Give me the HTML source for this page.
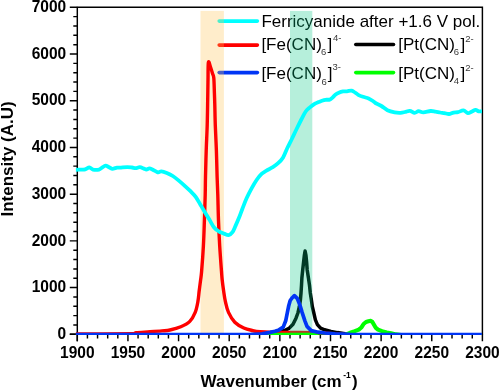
<!DOCTYPE html>
<html><head><meta charset="utf-8"><style>
html,body{margin:0;padding:0;background:#fff;}
svg{display:block;}
text{font-family:"Liberation Sans",Arial,sans-serif;}
</style></head><body>
<svg width="500" height="392" viewBox="0 0 500 392">
<defs><clipPath id="pc"><rect x="75.9" y="7.3" width="406.0" height="327.6"/></clipPath></defs>
<rect width="500" height="392" fill="#fff"/>
<g stroke="#000" stroke-width="1.45" fill="none">
<path d="M77.3 7.3H482.4V334.3"/>
<path d="M69.8 334.30H77.3M73.3 324.96H77.3M73.3 315.61H77.3M73.3 306.27H77.3M73.3 296.93H77.3M69.8 287.59H77.3M73.3 278.24H77.3M73.3 268.90H77.3M73.3 259.56H77.3M73.3 250.21H77.3M69.8 240.87H77.3M73.3 231.53H77.3M73.3 222.19H77.3M73.3 212.84H77.3M73.3 203.50H77.3M69.8 194.16H77.3M73.3 184.81H77.3M73.3 175.47H77.3M73.3 166.13H77.3M73.3 156.79H77.3M69.8 147.44H77.3M73.3 138.10H77.3M73.3 128.76H77.3M73.3 119.41H77.3M73.3 110.07H77.3M69.8 100.73H77.3M73.3 91.39H77.3M73.3 82.04H77.3M73.3 72.70H77.3M73.3 63.36H77.3M69.8 54.01H77.3M73.3 44.67H77.3M73.3 35.33H77.3M73.3 25.99H77.3M73.3 16.64H77.3M69.8 7.30H77.3M77.30 334.3V341.3M87.43 334.3V338.5M97.55 334.3V338.5M107.68 334.3V338.5M117.81 334.3V338.5M127.94 334.3V341.3M138.06 334.3V338.5M148.19 334.3V338.5M158.32 334.3V338.5M168.45 334.3V338.5M178.57 334.3V341.3M188.70 334.3V338.5M198.83 334.3V338.5M208.96 334.3V338.5M219.08 334.3V338.5M229.21 334.3V341.3M239.34 334.3V338.5M249.47 334.3V338.5M259.59 334.3V338.5M269.72 334.3V338.5M279.85 334.3V341.3M289.98 334.3V338.5M300.10 334.3V338.5M310.23 334.3V338.5M320.36 334.3V338.5M330.49 334.3V341.3M340.61 334.3V338.5M350.74 334.3V338.5M360.87 334.3V338.5M371.00 334.3V338.5M381.12 334.3V341.3M391.25 334.3V338.5M401.38 334.3V338.5M411.51 334.3V338.5M421.63 334.3V338.5M431.76 334.3V341.3M441.89 334.3V338.5M452.02 334.3V338.5M462.15 334.3V338.5M472.27 334.3V338.5M482.40 334.3V341.3"/>
<path d="M77.3 6.6499999999999995V341.3M69.8 334.3H483.04999999999995"/>
</g>
<g fill="none" stroke-linejoin="round" stroke-linecap="round" stroke-width="3.7" clip-path="url(#pc)">
<polyline points="75.9,335.2 245.0,335.2 265.0,333.6 272.0,332.5 279.0,331.3 285.1,330.3 289.0,328.4 293.0,324.3 296.0,318.2 297.9,313.0 299.4,306.5 300.4,300.0 301.0,293.0 301.5,285.3 301.9,277.7 302.7,270.0 303.6,262.0 304.4,255.0 305.1,251.0 305.9,255.0 306.6,262.0 307.2,270.0 308.4,277.7 309.5,285.3 310.3,293.0 311.4,300.0 312.3,306.5 313.6,312.0 315.4,319.8 317.4,324.6 320.6,328.2 324.6,329.8 331.0,331.4 337.4,332.6 345.0,333.8 355.0,334.8 370.0,335.2 482.5,335.2" stroke="#000" stroke-width="3.5"/>
</g>
<g stroke-width="3.6" stroke-linecap="round">
<path d="M219.2 21.1H257.4" stroke="#00ffff"/>
<path d="M219.2 45.1H257.4" stroke="#ff0000"/>
<path d="M219.2 72.6H257.4" stroke="#0035f5"/>
<path d="M355.8 44.5H393.5" stroke="#000"/>
<path d="M355.8 72.6H393.5" stroke="#00ff00"/>
</g>
<g font-size="17" fill="#000">
<text x="261.4" y="26.7">Ferricyanide after +1.6 V pol.</text>
<text x="261.4" y="49.7">[Fe(CN)</text><text x="321.1" y="55.300000000000004" font-size="9.5" fill="#3a3a3a">6</text><text x="327.6" y="49.7">]</text><text x="333.0" y="41.1" font-size="9.5" fill="#3a3a3a">4-</text><text x="261.4" y="78.6">[Fe(CN)</text><text x="321.6" y="84.8" font-size="9.5" fill="#3a3a3a">6</text><text x="327.7" y="78.6">]</text><text x="332.5" y="69.89999999999999" font-size="9.5" fill="#3a3a3a">3-</text><text x="398.3" y="49.7">[Pt(CN)</text><text x="453.8" y="55.2" font-size="9.5" fill="#3a3a3a">6</text><text x="460.5" y="49.7">]</text><text x="465.2" y="42.0" font-size="9.5" fill="#3a3a3a">2-</text><text x="398.3" y="78.6">[Pt(CN)</text><text x="453.8" y="84.39999999999999" font-size="9.5" fill="#3a3a3a">4</text><text x="460.5" y="78.6">]</text><text x="465.2" y="70.89999999999999" font-size="9.5" fill="#3a3a3a">2-</text>
</g>
<rect x="200.5" y="10.9" width="23.4" height="322.8" fill="rgb(255,195,82)" fill-opacity="0.3"/>
<g fill="none" stroke-linejoin="round" stroke-linecap="round" stroke-width="3.7" clip-path="url(#pc)">
<path d="M75.90 333.90C85.08 333.88 120.98 334.00 131.00 333.80C141.02 333.60 132.83 333.03 136.00 332.70C139.17 332.37 145.67 332.10 150.00 331.80C154.33 331.50 158.67 331.20 162.00 330.90C165.33 330.60 166.87 330.68 170.00 330.00C173.13 329.32 177.50 328.23 180.80 326.80C184.10 325.37 187.40 323.80 189.80 321.40C192.20 319.00 193.85 315.70 195.20 312.40C196.55 309.10 197.23 305.20 197.90 301.60C198.57 298.00 198.75 294.40 199.20 290.80C199.65 287.20 200.20 283.22 200.60 280.00C201.00 276.78 201.13 277.17 201.60 271.50C202.07 265.83 202.93 254.50 203.40 246.00C203.87 237.50 204.10 229.00 204.40 220.50C204.70 212.00 205.02 202.33 205.20 195.00C205.38 187.67 205.33 183.83 205.50 176.50C205.67 169.17 205.92 159.50 206.20 151.00C206.48 142.50 206.95 134.00 207.20 125.50C207.45 117.00 207.57 107.58 207.70 100.00C207.83 92.42 207.88 86.30 208.00 80.00C208.12 73.70 207.98 64.37 208.40 62.20C208.82 60.03 209.82 65.13 210.50 67.00C211.18 68.87 211.95 71.57 212.50 73.40C213.05 75.23 213.48 74.73 213.80 78.00C214.12 81.27 214.23 88.50 214.40 93.00C214.57 97.50 214.65 99.58 214.80 105.00C214.95 110.42 215.03 117.83 215.30 125.50C215.57 133.17 216.10 142.50 216.40 151.00C216.70 159.50 216.87 169.17 217.10 176.50C217.33 183.83 217.57 187.67 217.80 195.00C218.03 202.33 218.18 212.00 218.50 220.50C218.82 229.00 219.20 237.50 219.70 246.00C220.20 254.50 221.08 265.83 221.50 271.50C221.92 277.17 221.85 276.78 222.20 280.00C222.55 283.22 223.07 287.20 223.60 290.80C224.13 294.40 224.58 298.00 225.40 301.60C226.22 305.20 226.93 308.97 228.50 312.40C230.07 315.83 232.25 319.60 234.80 322.20C237.35 324.80 240.80 326.60 243.80 328.00C246.80 329.40 250.10 329.97 252.80 330.60C255.50 331.23 256.80 331.50 260.00 331.80C263.20 332.10 267.00 332.28 272.00 332.40C277.00 332.52 283.17 332.47 290.00 332.50C296.83 332.53 306.33 332.45 313.00 332.60C319.67 332.75 323.83 333.07 330.00 333.40C336.17 333.73 324.58 334.40 350.00 334.60C375.42 334.80 460.42 334.60 482.50 334.60" stroke="#ff0000" stroke-width="3.4"/>
</g>
<rect x="290" y="10.9" width="22.3" height="322.8" fill="rgb(3,200,131)" fill-opacity="0.29"/>
<g fill="none" stroke-linejoin="round" stroke-linecap="round" stroke-width="3.7" clip-path="url(#pc)">
<polyline points="75.9,335.4 270.0,335.4 276.0,334.9 314.0,334.9 318.0,336.5 340.0,336.5 346.0,334.6 351.0,332.4 354.8,331.2 358.8,329.6 361.6,327.2 363.6,324.0 366.0,322.0 368.4,321.3 370.8,320.8 372.4,322.0 374.0,324.8 375.6,327.6 378.0,329.6 382.0,331.2 386.8,332.4 391.0,333.2 396.0,334.4 401.0,335.0 410.0,335.4 482.5,335.4" stroke="#00ff00" stroke-width="4.1"/>
<path d="M75.90 169.80C76.75 169.77 79.45 169.67 81.00 169.60C82.55 169.53 83.80 169.77 85.20 169.40C86.60 169.03 88.10 167.37 89.40 167.40C90.70 167.43 91.40 169.23 93.00 169.60C94.60 169.97 97.50 169.93 99.00 169.60C100.50 169.27 100.90 168.27 102.00 167.60C103.10 166.93 104.50 165.70 105.60 165.60C106.70 165.50 107.50 166.47 108.60 167.00C109.70 167.53 110.80 168.70 112.20 168.80C113.60 168.90 115.70 167.80 117.00 167.60C118.30 167.40 118.30 167.68 120.00 167.60C121.70 167.52 125.20 167.12 127.20 167.10C129.20 167.08 130.60 167.32 132.00 167.50C133.40 167.68 134.30 168.25 135.60 168.20C136.90 168.15 138.40 167.13 139.80 167.20C141.20 167.27 142.90 168.22 144.00 168.60C145.10 168.98 145.50 169.53 146.40 169.50C147.30 169.47 148.40 168.42 149.40 168.40C150.40 168.38 151.30 168.90 152.40 169.40C153.50 169.90 155.00 170.90 156.00 171.40C157.00 171.90 157.50 172.40 158.40 172.40C159.30 172.40 160.00 171.30 161.40 171.40C162.80 171.50 164.90 172.23 166.80 173.00C168.70 173.77 170.80 174.73 172.80 176.00C174.80 177.27 176.85 179.00 178.80 180.60C180.75 182.20 182.55 183.83 184.50 185.60C186.45 187.37 188.63 189.33 190.50 191.20C192.37 193.07 194.07 194.58 195.70 196.80C197.33 199.02 198.77 201.93 200.30 204.50C201.83 207.07 203.37 209.65 204.90 212.20C206.43 214.75 207.97 217.25 209.50 219.80C211.03 222.35 212.57 225.58 214.10 227.50C215.63 229.42 217.05 230.28 218.70 231.30C220.35 232.32 222.35 232.97 224.00 233.60C225.65 234.23 227.18 235.35 228.60 235.10C230.02 234.85 231.35 233.63 232.50 232.10C233.65 230.57 234.35 228.45 235.50 225.90C236.65 223.35 238.23 219.70 239.40 216.80C240.57 213.90 241.30 211.58 242.50 208.50C243.70 205.42 245.08 201.65 246.60 198.30C248.12 194.95 249.93 191.45 251.60 188.40C253.27 185.35 254.93 182.42 256.60 180.00C258.27 177.58 259.95 175.47 261.60 173.90C263.25 172.33 264.72 171.68 266.50 170.60C268.28 169.52 270.37 168.63 272.30 167.40C274.23 166.17 276.30 164.87 278.10 163.20C279.90 161.53 281.62 159.80 283.10 157.40C284.58 155.00 285.58 151.78 287.00 148.80C288.42 145.82 290.00 142.80 291.60 139.50C293.20 136.20 294.93 132.42 296.60 129.00C298.27 125.58 300.08 121.92 301.60 119.00C303.12 116.08 304.32 113.43 305.70 111.50C307.08 109.57 308.35 108.70 309.90 107.40C311.45 106.10 313.57 104.58 315.00 103.70C316.43 102.82 317.33 102.60 318.50 102.10C319.67 101.60 320.83 101.08 322.00 100.70C323.17 100.32 324.22 99.98 325.50 99.80C326.78 99.62 328.53 99.97 329.70 99.60C330.87 99.23 331.57 98.40 332.50 97.60C333.43 96.80 334.25 95.62 335.30 94.80C336.35 93.98 337.52 93.27 338.80 92.70C340.08 92.13 341.63 91.63 343.00 91.40C344.37 91.17 345.60 91.43 347.00 91.30C348.40 91.17 350.20 90.48 351.40 90.60C352.60 90.72 353.07 91.30 354.20 92.00C355.33 92.70 356.73 94.00 358.20 94.80C359.67 95.60 361.27 96.20 363.00 96.80C364.73 97.40 367.00 97.73 368.60 98.40C370.20 99.07 371.47 100.03 372.60 100.80C373.73 101.57 373.93 102.13 375.40 103.00C376.87 103.87 379.40 104.80 381.40 106.00C383.40 107.20 385.20 109.13 387.40 110.20C389.60 111.27 392.40 111.97 394.60 112.40C396.80 112.83 398.87 112.87 400.60 112.80C402.33 112.73 403.47 112.33 405.00 112.00C406.53 111.67 408.20 110.67 409.80 110.80C411.40 110.93 413.13 112.73 414.60 112.80C416.07 112.87 417.13 111.27 418.60 111.20C420.07 111.13 421.40 112.43 423.40 112.40C425.40 112.37 428.60 111.13 430.60 111.00C432.60 110.87 433.80 111.35 435.40 111.60C437.00 111.85 438.68 112.25 440.20 112.50C441.72 112.75 443.03 112.85 444.50 113.10C445.97 113.35 447.50 114.08 449.00 114.00C450.50 113.92 452.00 112.90 453.50 112.60C455.00 112.30 456.35 112.57 458.00 112.20C459.65 111.83 461.75 110.25 463.40 110.40C465.05 110.55 466.55 112.88 467.90 113.10C469.25 113.32 470.22 112.23 471.50 111.70C472.78 111.17 474.40 109.97 475.60 109.90C476.80 109.83 477.55 111.07 478.70 111.30C479.85 111.53 481.87 111.30 482.50 111.30" stroke="#00ffff" stroke-width="3.8"/>
<polyline points="75.9,334.5 250.0,334.5 262.0,333.9 270.0,332.4 275.0,331.3 279.0,329.9 283.2,327.1 285.7,320.8 287.4,312.4 288.8,305.4 290.2,300.5 292.3,297.7 294.4,295.6 297.2,298.4 300.0,305.4 302.1,312.4 304.9,320.8 307.0,326.4 311.2,330.6 318.2,332.2 325.0,333.0 335.0,333.8 350.0,334.4 482.5,334.5" stroke="#0035f5"/>
</g>
<g font-size="15.5" font-weight="bold" fill="#000">
<g text-anchor="end"><text transform="translate(66.2,338.9) scale(1,1.08)">0</text><text transform="translate(66.2,292.2) scale(1,1.08)">1000</text><text transform="translate(66.2,245.5) scale(1,1.08)">2000</text><text transform="translate(66.2,198.8) scale(1,1.08)">3000</text><text transform="translate(66.2,152.0) scale(1,1.08)">4000</text><text transform="translate(66.2,105.3) scale(1,1.08)">5000</text><text transform="translate(66.2,58.6) scale(1,1.08)">6000</text><text transform="translate(66.2,11.9) scale(1,1.08)">7000</text></g>
<g text-anchor="middle"><text transform="translate(77.3,357.8) scale(1,1.08)">1900</text><text transform="translate(127.9,357.8) scale(1,1.08)">1950</text><text transform="translate(178.6,357.8) scale(1,1.08)">2000</text><text transform="translate(229.2,357.8) scale(1,1.08)">2050</text><text transform="translate(279.9,357.8) scale(1,1.08)">2100</text><text transform="translate(330.5,357.8) scale(1,1.08)">2150</text><text transform="translate(381.1,357.8) scale(1,1.08)">2200</text><text transform="translate(431.8,357.8) scale(1,1.08)">2250</text><text transform="translate(482.4,357.8) scale(1,1.08)">2300</text></g>
</g>
<text x="200.6" y="386.6" font-size="17" font-weight="bold">Wavenumber (cm<tspan x="343.2" y="377.6" font-size="8.5">-1</tspan><tspan x="351.9" y="386.6">)</tspan></text>
<text transform="translate(13.2,158.9) rotate(-90)" font-size="17" font-weight="bold" text-anchor="middle">Intensity (A.U)</text>
</svg>
</body></html>
